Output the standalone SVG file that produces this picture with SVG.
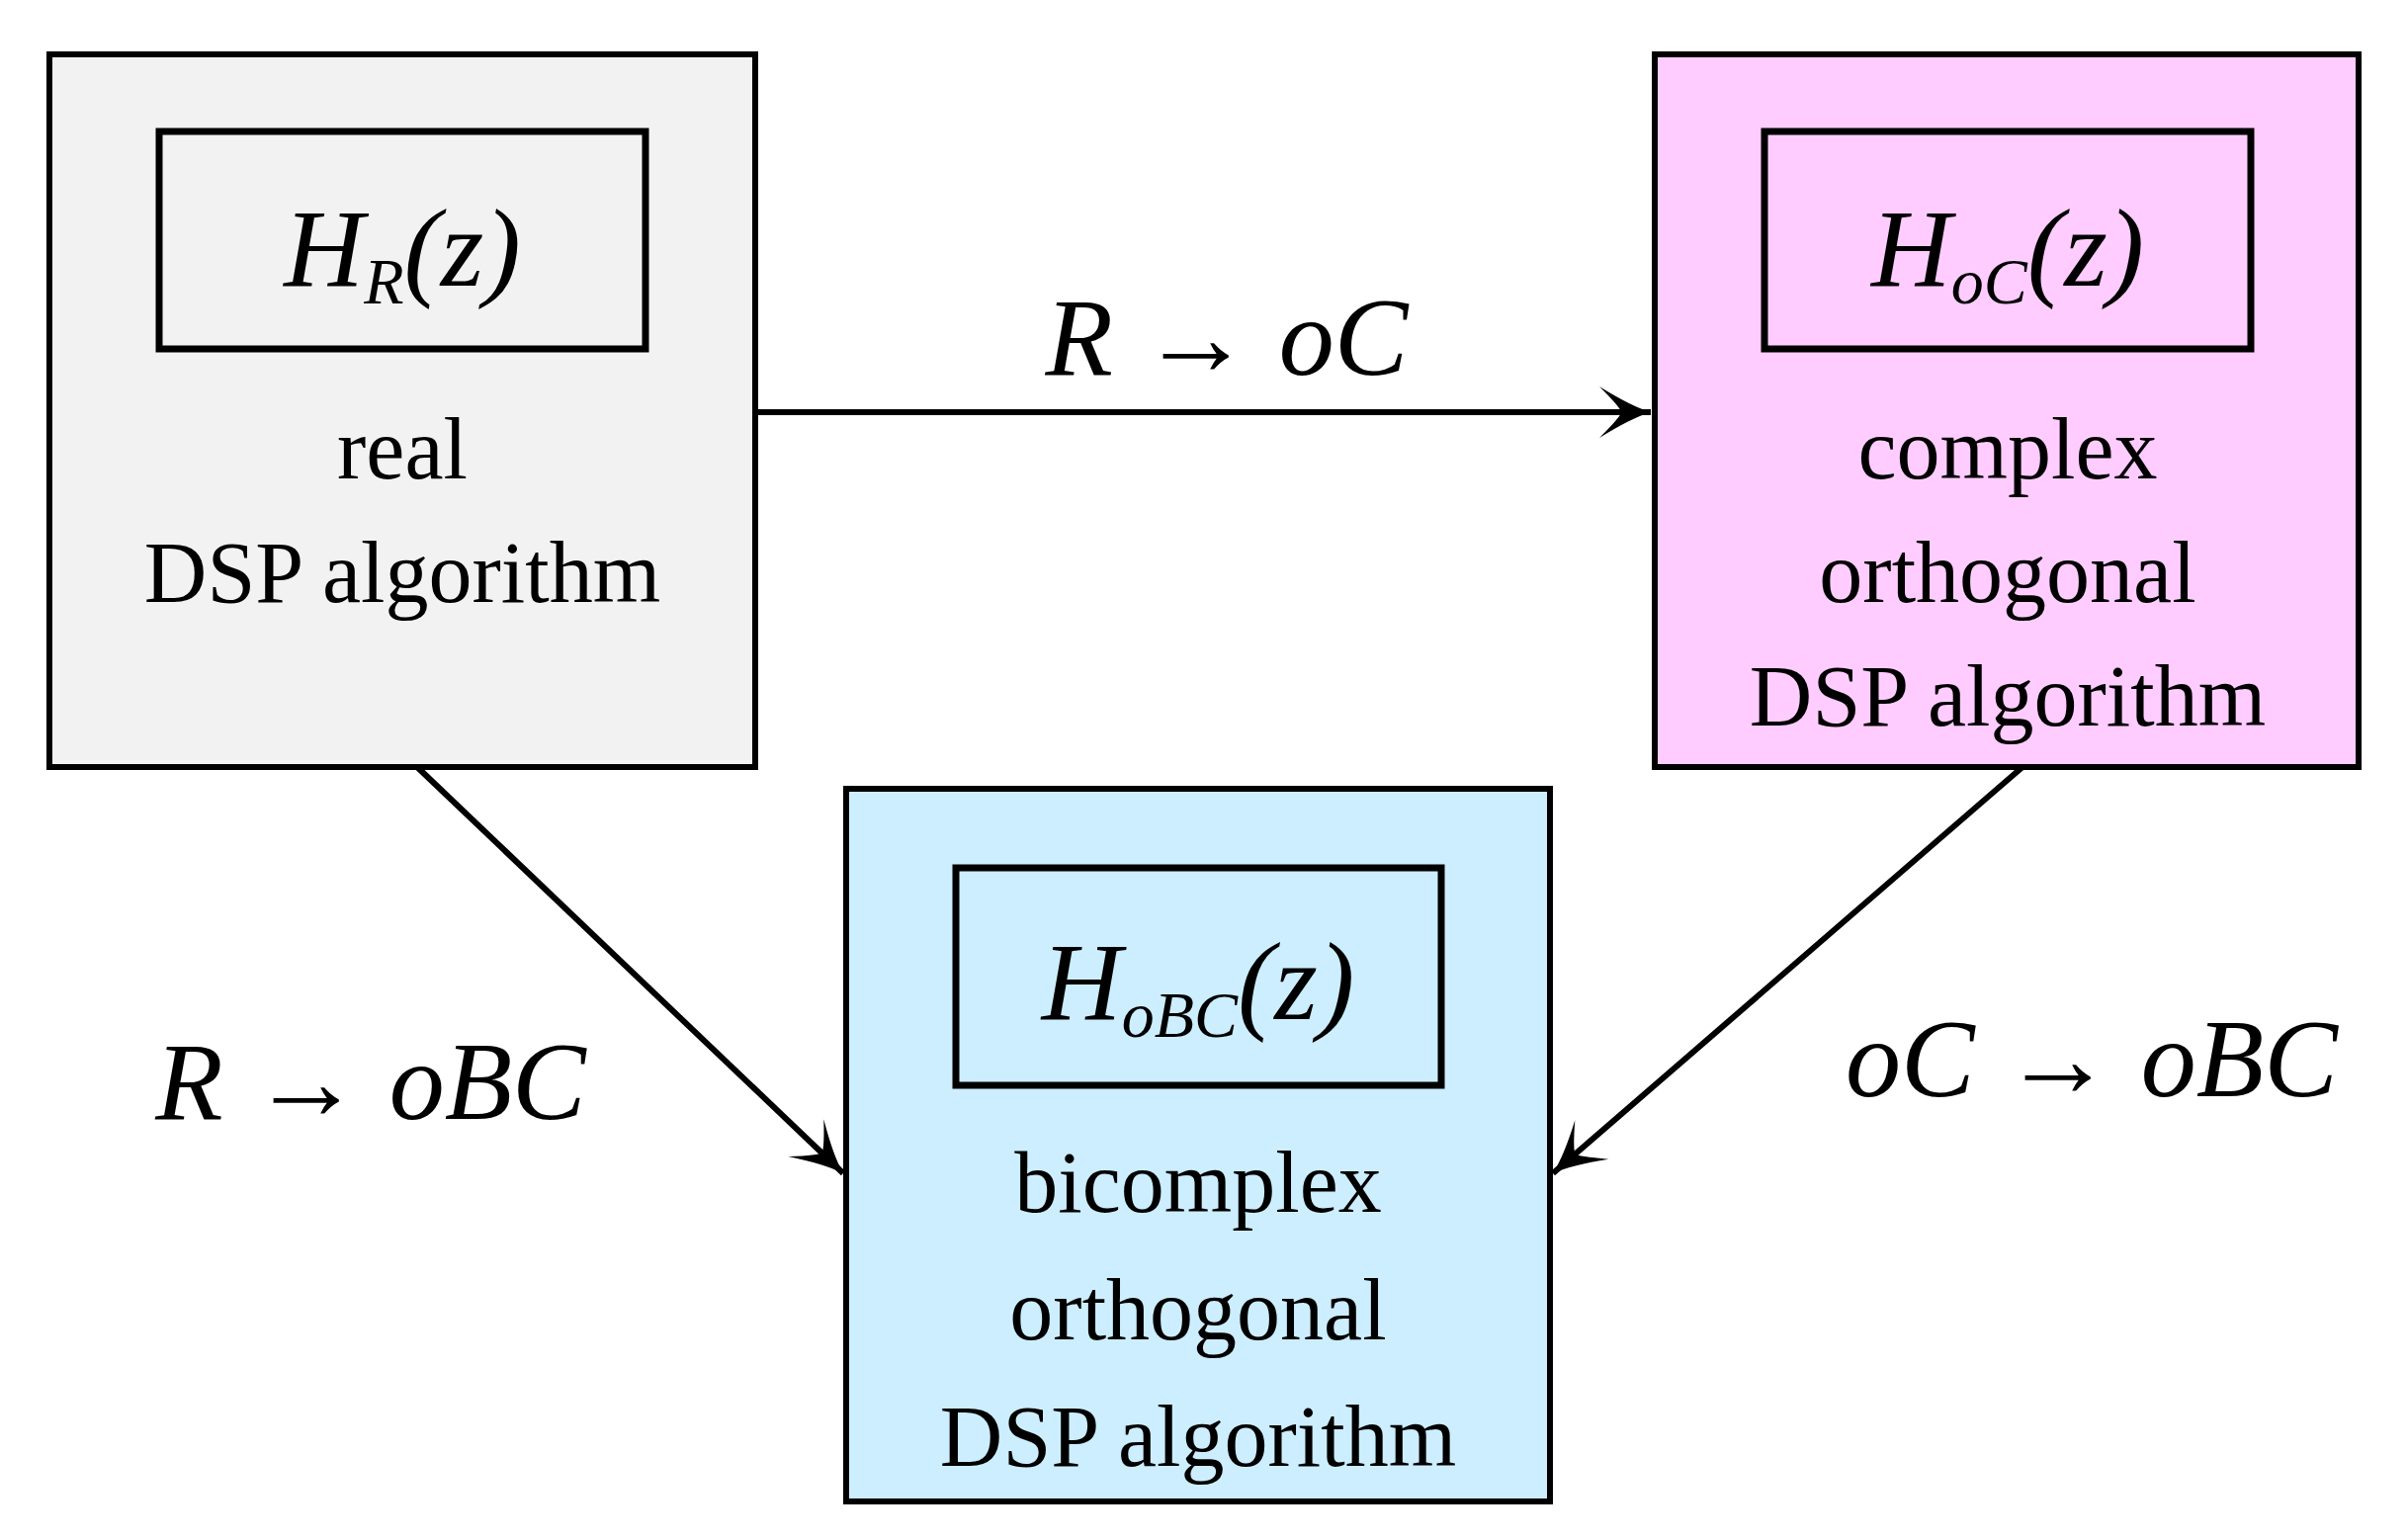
<svg xmlns="http://www.w3.org/2000/svg" width="2436" height="1558" viewBox="0 0 2436 1558">
<style>
.box{stroke:#000;stroke-width:6}
.inner{fill:none;stroke:#000;stroke-width:7}
.t{font-family:"Liberation Serif","DejaVu Serif",serif;font-size:88px;text-anchor:middle;fill:#000}
.m{font-family:"Liberation Serif","DejaVu Serif",serif;font-style:italic;font-size:112px;text-anchor:middle;fill:#000}
.s{font-size:66px}
.c{fill:none;stroke:#000;stroke-width:6}
</style>
<defs>
<marker id="a" markerUnits="userSpaceOnUse" markerWidth="90" markerHeight="70" refX="60" refY="30" orient="auto" viewBox="0 0 90 70">
<path d="M8,4 Q40,24 60,30 Q40,36 8,56 Q30,34 30,30 Q30,26 8,4 Z" fill="#000"/>
</marker>
</defs>
<g id="real">
<rect class="box" x="50" y="55" width="714" height="721" fill="#f2f2f2"/>
<rect class="inner" x="161" y="133" width="492" height="220"/>
<text class="m" x="407" y="289">H<tspan class="s" dy="18">R</tspan><tspan dy="-18">(z)</tspan></text>
<text class="t" x="407" y="484">real</text>
<text class="t" x="407" y="609">DSP algorithm</text>
</g>
<g id="complex">
<rect class="box" x="1674" y="55" width="712" height="721" fill="#ffccff"/>
<rect class="inner" x="1785" y="133" width="492" height="220"/>
<text class="m" x="2031" y="289">H<tspan class="s" dy="18">oC</tspan><tspan dy="-18">(z)</tspan></text>
<text class="t" x="2031" y="484">complex</text>
<text class="t" x="2031" y="609">orthogonal</text>
<text class="t" x="2031" y="734">DSP algorithm</text>
</g>
<g id="bicomplex">
<rect class="box" x="856" y="798" width="712" height="721" fill="#cceeff"/>
<rect class="inner" x="967" y="878" width="491" height="220"/>
<text class="m" x="1212" y="1031">H<tspan class="s" dy="18">oBC</tspan><tspan dy="-18">(z)</tspan></text>
<text class="t" x="1212" y="1226">bicomplex</text>
<text class="t" x="1212" y="1355">orthogonal</text>
<text class="t" x="1212" y="1483">DSP algorithm</text>
</g>
<g id="connectors">
<line class="c" x1="764" y1="417" x2="1670" y2="417" marker-end="url(#a)"/>
<line class="c" x1="422" y1="776" x2="853" y2="1187" marker-end="url(#a)"/>
<line class="c" x1="2046" y1="776" x2="1571" y2="1187" marker-end="url(#a)"/>
<text class="m" x="1241" y="379">R → oC</text>
<text class="m" x="375" y="1132">R → oBC</text>
<text class="m" x="2116" y="1109">oC → oBC</text>
</g>
</svg>
